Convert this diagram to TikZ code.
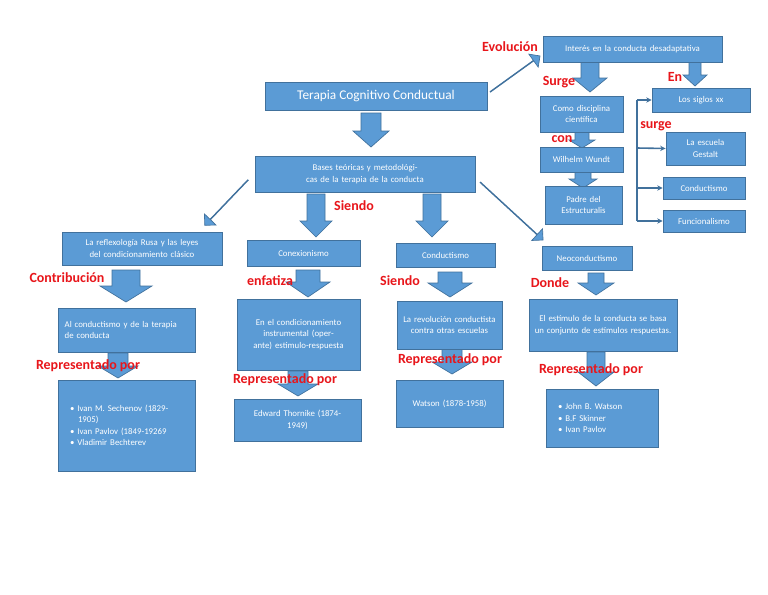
\documentclass[tikz,border=0pt]{standalone}
\usepackage{fontspec}
\setmainfont{Carlito}
\usetikzlibrary{shapes.arrows,arrows.meta}
\definecolor{bfill}{HTML}{5B9BD5}
\definecolor{bdraw}{HTML}{41719C}
\definecolor{lred}{HTML}{E8161B}
\tikzset{
 bx/.style={draw=bdraw,fill=bfill,line width=0.7pt,text=white,font=\fontsize{6.6}{8.6}\selectfont,align=center,inner sep=1pt},
 lab/.style={text=lred,font=\fontsize{10.5}{12}\selectfont\bfseries,inner sep=0pt},
 blk/.style={fill=bfill,draw=bdraw,line width=0.5pt},
 diag/.style={single arrow,blk,minimum width=12pt,single arrow head extend=5pt,inner sep=0pt,shape border uses incircle=false},
}
\newcommand{\bx}[6]{\node[bx,minimum width={(#4-#2)*0.75pt},minimum height={(#5-#3)*0.75pt},text width={(#4-#2)*0.75pt-6pt}] (#1) at ({(#2+#4)/2},{(#3+#5)/2}) {#6};}
\newcommand{\darr}[6]{\draw[blk] ({#1-#4},#2)--({#1+#4},#2)--({#1+#4},{#3-#6})--({#1+#5},{#3-#6})--(#1,#3)--({#1-#5},{#3-#6})--({#1-#4},{#3-#6})--cycle;}
\begin{document}
\begin{tikzpicture}[x=0.75pt,y=-0.75pt]
\useasboundingbox (0,0) rectangle (768,594);
\fill[white] (0,0) rectangle (768,594);
% arrows first
\darr{371}{113}{147}{10}{18}{16}
\darr{590}{62}{92}{9}{17}{14}
\darr{695}{62}{86}{6}{12}{11}
\darr{582}{131}{148}{7}{13}{8}
\darr{583}{172}{188}{8}{14}{9}
\darr{316}{194}{237}{9}{16}{16}
\darr{432}{194}{237}{9}{16}{16}
\darr{126}{270}{302}{14}{26}{16}
\darr{308}{270}{297}{12}{22}{15}
\darr{450}{272}{297}{12}{22}{14}
\darr{596}{273}{295}{8}{18}{12}
\darr{118}{353}{378}{10}{20}{12}
\darr{298}{371}{396}{10}{20}{12}
\darr{452}{349}{374}{10}{20}{12}
\darr{596}{352}{386}{9}{18}{14}
\node[diag,minimum height=47pt,rotate=-133.7] (d1) at (226.5,202.5) {};
\node[diag,minimum height=64pt,rotate=-42.6] (d2) at (511.5,211) {};
\node[diag,minimum height=46pt,rotate=35.8] (d3) at (515,74) {};
% boxes
\bx{title}{265}{82}{487}{110}{\fontsize{10}{12}\selectfont Terapia Cognitivo Conductual}
\bx{int}{543}{36}{722}{62}{Interés en la conducta desadaptativa}
\bx{como}{540}{96}{623}{132}{Como disciplina\\ científica}
\bx{wundt}{540}{147}{623}{172}{Wilhelm Wundt}
\bx{padre}{545}{186}{622}{224}{Padre del\\ Estructuralis}
\bx{siglos}{652}{88}{750}{112}{Los siglos xx}
\bx{gestalt}{666}{132}{745}{165}{La escuela\\ Gestalt}
\bx{cond2}{663}{177}{745}{199}{Conductismo}
\bx{func}{663}{210}{745}{232}{Funcionalismo}
\bx{bases}{255}{156}{475}{192}{Bases teóricas y metodológicas de la terapia de la conducta}
\bx{refl}{62}{232}{222}{265}{La reflexología Rusa y las leyes del condicionamiento clásico}
\bx{conex}{247}{240}{360}{266}{Conexionismo}
\bx{cond}{396}{243}{495}{267}{Conductismo}
\bx{neo}{542}{246}{632}{270}{Neoconductismo}
\node[bx,minimum width={137*0.75pt},minimum height={44*0.75pt},text width={137*0.75pt-10pt},align=left] (al) at (126.5,330) {Al conductismo y de la terapia de conducta\\[3pt]};
\bx{enel}{237}{299}{360}{370}{En el condicionamiento instrumental (operante) estimulo-respuesta\\[14pt]}
\bx{rev}{397}{301}{502}{349}{La revolución conductista contra otras escuelas}
\bx{estim}{529}{299}{677}{351}{El estímulo de la conducta se basa un conjunto de estímulos respuestas.}
\node[bx,minimum width={137*0.75pt},minimum height={91*0.75pt},text width={137*0.75pt-18pt},align=left] (l1) at (126.5,425.5) {\textbullet\ Ivan M. Sechenov (1829-\\\hspace*{6pt}1905)\\\textbullet\ Ivan Pavlov (1849-19269\\\textbullet\ Vladimir Bechterev\\[14pt]};
\bx{edw}{234}{399}{361}{441}{Edward Thornike (1874-\\1949)\\[6pt]}
\bx{wat}{396}{380}{503}{427}{Watson (1878-1958)\\[10pt]}
\node[bx,minimum width={112*0.75pt},minimum height={58*0.75pt},text width={112*0.75pt-18pt},align=left] (l2) at (602,418) {\textbullet\ John B. Watson\\\textbullet\ B.F Skinner\\\textbullet\ Ivan Pavlov\\[4pt]};
% bracket
\coordinate (bt) at (637,100);
\coordinate (bb) at (637,221);
\draw[bdraw,line width=1.5pt] (bt)--(bb);
\draw[bdraw,line width=1.2pt,-{Stealth[length=4pt,width=4pt]}] (bt)--(siglos.west);
\draw[bdraw,line width=1.2pt,-{Stealth[length=4pt,width=4pt]}] (637,148)--(gestalt.west);
\draw[bdraw,line width=1.2pt,-{Stealth[length=4pt,width=4pt]}] (637,188)--(cond2.west);
\draw[bdraw,line width=1.2pt,-{Stealth[length=4pt,width=4pt]}] (bb)--(func.west);
% labels
\node[lab] (l_evo) at (510,47) {Evolución};
\node[lab] (l_surge) at (559,82) {Surge};
\node[lab] (l_en) at (675,77) {En};
\node[lab] (l_con) at (562,139) {con};
\node[lab] (l_surge2) at (656,126) {surge};
\node[lab] (l_siendo) at (354,206) {Siendo};
\node[lab] (l_contr) at (67,278) {Contribución};
\node[lab] (l_enf) at (270,281) {enfatiza};
\node[lab] (l_siendo2) at (400,281) {Siendo};
\node[lab] (l_donde) at (550,283) {Donde};
\node[lab] (l_rep1) at (88,366) {Representado por};
\node[lab] (l_rep2) at (285,380) {Representado por};
\node[lab] (l_rep3) at (450,360) {Representado por};
\node[lab] (l_rep4) at (591,370) {Representado por};
\end{tikzpicture}
\end{document}
